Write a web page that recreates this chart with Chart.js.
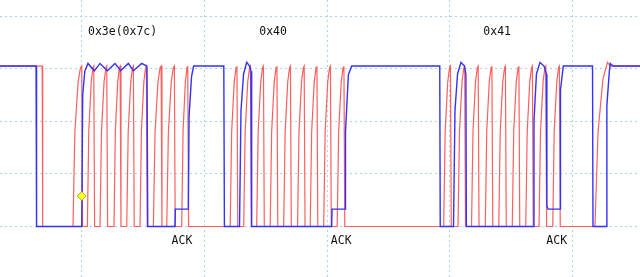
<!DOCTYPE html>
<html>
<head>
<meta charset="utf-8">
<script src="https://cdn.jsdelivr.net/npm/chart.js@4.4.1/dist/chart.umd.min.js"></script>
<style>
  html, body { margin: 0; padding: 0; background: #fff; }
  #wrap { width: 640px; height: 277px; }
</style>
</head>
<body>
<div id="wrap"><canvas id="scope"></canvas></div>
<script>
'use strict';

// time in 1/10 division (trigger at 0), level in divisions
const xTicks = [0, 10, 20, 30, 40];
const yTicks = [0, 1, 2, 3, 4];

const LOW = 0, HIGH = 3.05;

// SCL (red): start condition fall, then rise start / fall of each clock pulse
const sclStartFall = -3.18;
const sclRise = [-0.71, 0.46, 1.49, 2.63, 3.67, 4.75, 5.84, 6.93, 8.15,
                 12.10, 13.20, 14.26, 15.36, 16.46, 17.59, 18.62, 19.72, 20.82,
                 29.50, 30.67, 31.77, 32.89, 33.99, 35.09, 36.19, 37.27, 38.39];
const sclFall = [0.05, 1.03, 2.09, 3.18, 4.26, 5.32, 6.52, 7.60, 8.69,
                 12.70, 13.80, 14.86, 15.96, 17.06, 18.18, 19.22, 20.32, 21.42,
                 30.10, 31.26, 32.36, 33.48, 34.58, 35.68, 36.78, 37.87, 38.98];
// stop condition: SCL released
const sclStopT = [41.83, 42.08, 42.48, 42.85, 43.08];
const sclStopV = [0, 1.8, 2.8, 3.12, 3.05];

// SDA (blue), read point by point
const sdaT = [-7, -3.72, -3.68, 0.00, 0.08, 0.25, 0.51, 1.03, 1.49, 2.09, 2.71, 3.18, 3.80, 4.21, 4.89, 5.32, 5.38,
              7.60, 7.63, 8.69, 8.75, 8.95, 9.12, 11.58, 11.63,
              12.86, 12.98, 13.19, 13.45, 13.68, 13.80, 13.85,
              20.37, 20.40, 21.46, 21.50, 21.73, 22.00, 29.18, 29.22,
              30.30, 30.42, 30.63, 30.91, 31.19, 31.31, 31.35,
              36.80, 36.86, 37.06, 37.35, 37.68, 37.87, 37.91, 38.00, 38.98, 39.02, 39.25,
              41.63, 41.67, 42.74, 42.80, 43.00, 43.08, 43.30, 47];
const sdaV = [3.05, 3.05, 0, 0, 2.5, 2.95, 3.10, 2.96, 3.10, 2.96, 3.10, 2.96, 3.10, 2.96, 3.10, 3.05, 0,
              0, 0.33, 0.33, 2.1, 2.85, 3.05, 3.05, 0,
              0, 2.2, 2.9, 3.12, 3.05, 2.95, 0,
              0, 0.33, 0.33, 1.8, 2.88, 3.05, 3.05, 0,
              0, 2.2, 2.9, 3.12, 3.05, 2.9, 0,
              0, 2.0, 2.9, 3.12, 3.05, 2.9, 0.40, 0.33, 0.33, 2.6, 3.05,
              3.05, 0, 0, 2.3, 2.95, 3.1, 3.05, 3.05];

const trigger = {x: 0, y: 0.58};

const byteNames = ['0x3e(0x7c)', '0x40', '0x41'];
const byteAt = [0.51, 14.47, 32.73];
const ackAt = [8.17, 21.15, 38.71];

// build SCL trace
const scl = [{x: -7, y: HIGH}, {x: sclStartFall - 0.04, y: HIGH}, {x: sclStartFall, y: LOW}];
sclRise.forEach((r, i) => {
  const f = sclFall[i], d = f - r;
  scl.push({x: r, y: LOW}, {x: r + d * 0.2, y: 1.8}, {x: r + d * 0.55, y: 2.75},
           {x: r + d * 0.8, y: 3.02}, {x: f - 0.05, y: HIGH}, {x: f + 0.02, y: LOW});
});
sclStopT.forEach((t, i) => scl.push({x: t, y: sclStopV[i]}));
scl.push({x: 47, y: HIGH});

const sda = sdaT.map((t, i) => ({x: t, y: sdaV[i]}));

const labels = {
  id: 'labels',
  afterDatasetsDraw(chart) {
    const {ctx, scales: {x, y}} = chart;
    ctx.save();
    ctx.font = '11.5px "DejaVu Sans Mono"';
    ctx.fillStyle = '#111';
    ctx.textBaseline = 'middle';
    ctx.textAlign = 'left';
    byteNames.forEach((s, i) => ctx.fillText(s, x.getPixelForValue(byteAt[i]), y.getPixelForValue(3.69)));
    ctx.textAlign = 'center';
    ackAt.forEach(t => ctx.fillText('ACK', x.getPixelForValue(t), y.getPixelForValue(-0.285)));
    ctx.restore();
  }
};

const gridOpts = {color: '#a8d5e2', lineWidth: 1, drawTicks: false};

new Chart(document.getElementById('scope'), {
  type: 'scatter',
  data: {
    datasets: [
      {data: [trigger], pointStyle: 'rectRot', pointRadius: 4.5, backgroundColor: '#ffff30',
       borderColor: '#b5b000', borderWidth: 1},
      {data: sda, showLine: true, borderColor: 'rgb(50,50,250)', borderWidth: 1.4, pointRadius: 0, tension: 0},
      {data: scl, showLine: true, borderColor: 'rgb(255,95,95)', borderWidth: 1.2, pointRadius: 0, tension: 0}
    ]
  },
  options: {
    responsive: true,
    maintainAspectRatio: false,
    animation: false,
    layout: {padding: 0, autoPadding: false},
    plugins: {legend: {display: false}, tooltip: {enabled: false}},
    scales: {
      x: {
        type: 'linear', min: -6.66, max: 45.5,
        afterBuildTicks: s => { s.ticks = xTicks.map(v => ({value: v})); },
        ticks: {display: false}, grid: gridOpts, border: {display: false, dash: [2, 3]}
      },
      y: {
        type: 'linear', min: -0.96, max: 4.306,
        afterBuildTicks: s => { s.ticks = yTicks.map(v => ({value: v})); },
        ticks: {display: false}, grid: gridOpts, border: {display: false, dash: [2, 3]}
      }
    }
  },
  plugins: [labels]
});
</script>
</body>
</html>
